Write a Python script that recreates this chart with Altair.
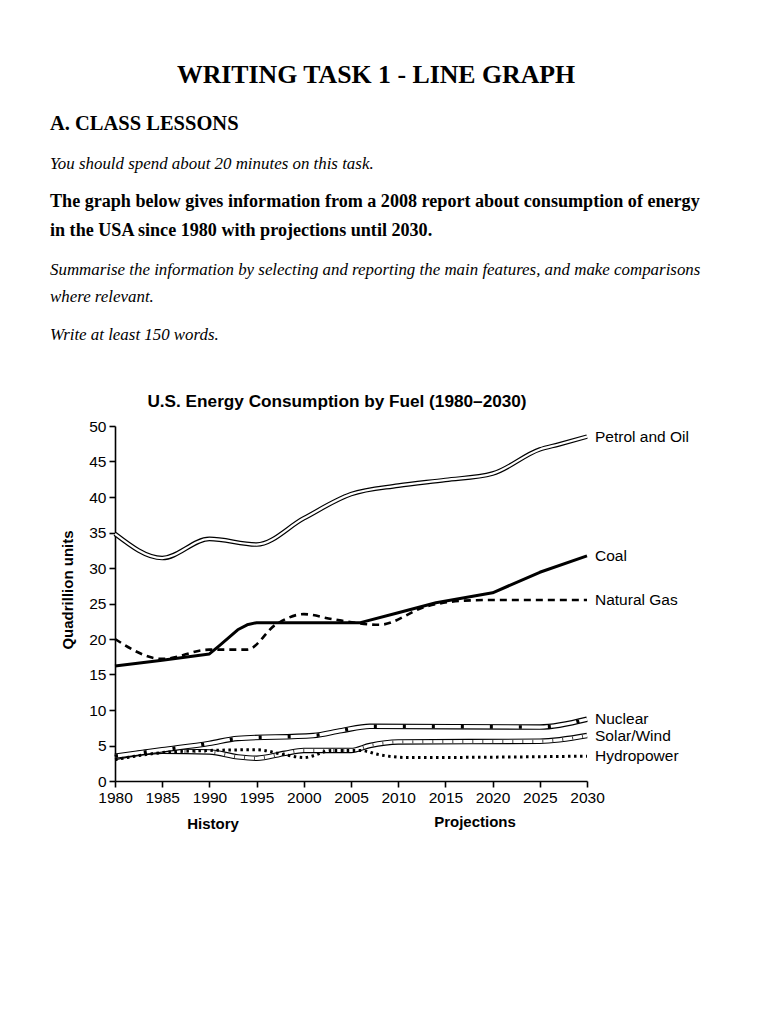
import altair as alt
import pandas as pd

# ---- data ----
petrol_years = [1980, 1985, 1990, 1995, 2000, 2005, 2010, 2015, 2020, 2025, 2027, 2030]
petrol_vals = [34.8, 31.4, 34.1, 33.3, 37.0, 40.4, 41.6, 42.4, 43.3, 46.7, 47.4, 48.5]

coal_years = [1980, 1985, 1990, 1991, 1993, 1994, 1995, 2000, 2006, 2010, 2014, 2020, 2025, 2030]
coal_vals = [16.2, 17.0, 17.9, 19.0, 21.3, 22.0, 22.3, 22.3, 22.3, 23.7, 25.1, 26.5, 29.4, 31.7]

gas_years = [1980, 1985, 1990, 1994, 1997, 2000, 2003, 2008, 2013, 2017, 2020, 2025, 2030]
gas_vals = [20.0, 17.2, 18.5, 18.5, 22.0, 23.5, 22.8, 22.0, 24.6, 25.4, 25.5, 25.5, 25.5]

nuclear_years = [1980, 1985, 1990, 1993, 2001, 2004, 2007, 2025, 2030]
nuclear_vals = [3.5, 4.4, 5.3, 6.0, 6.4, 7.1, 7.7, 7.6, 8.7]

solar_years = [1980, 1985, 1990, 1993, 1995, 1998, 2000, 2005, 2007, 2010, 2025, 2030]
solar_vals = [3.3, 4.2, 4.1, 3.4, 3.2, 3.9, 4.3, 4.3, 5.0, 5.5, 5.6, 6.4]

hydro_years = [1980, 1985, 1990, 1995, 1998, 2000, 2003, 2006, 2008, 2011, 2030]
hydro_vals = [3.0, 4.0, 4.3, 4.4, 3.7, 3.3, 4.3, 4.3, 3.7, 3.3, 3.5]

series_names = ["Petrol and Oil", "Coal", "Natural Gas", "Nuclear", "Solar/Wind", "Hydropower"]
x_ticks = list(range(1980, 2031, 5))
y_ticks = list(range(0, 51, 5))

chart_title = "U.S. Energy Consumption by Fuel (1980\u20132030)"
y_title = "Quadrillion units"
sub_history = "History"
sub_projections = "Projections"

doc_heading = "WRITING TASK 1 - LINE GRAPH"
doc_section = "A. CLASS LESSONS"
doc_time = "You should spend about 20 minutes on this task."
doc_prompt1 = "The graph below gives information from a 2008 report about consumption of energy"
doc_prompt2 = "in the USA since 1980 with projections until 2030."
doc_instr1 = "Summarise the information by selecting and reporting the main features, and make comparisons"
doc_instr2 = "where relevant."
doc_words = "Write at least 150 words."


def frame(years, vals, name):
    return pd.DataFrame({"year": years, "value": vals, "series": name})


dfs = {
    "Petrol and Oil": frame(petrol_years, petrol_vals, "Petrol and Oil"),
    "Coal": frame(coal_years, coal_vals, "Coal"),
    "Natural Gas": frame(gas_years, gas_vals, "Natural Gas"),
    "Nuclear": frame(nuclear_years, nuclear_vals, "Nuclear"),
    "Solar/Wind": frame(solar_years, solar_vals, "Solar/Wind"),
    "Hydropower": frame(hydro_years, hydro_vals, "Hydropower"),
}

SANS = "Liberation Sans, Arial, Helvetica, sans-serif"
SERIF = "Liberation Serif, Times New Roman, serif"

X = alt.X("year:Q", scale=alt.Scale(domain=[1980, 2030], nice=False, zero=False),
          axis=alt.Axis(values=x_ticks, format="d", title=None, grid=False,
                        labelFlush=False, labelOverlap=False))
Y = alt.Y("value:Q", scale=alt.Scale(domain=[0, 50], nice=False),
          axis=alt.Axis(values=y_ticks, title=None, grid=False,
                        labelFlush=False, labelOverlap=False))


def line(name, interp="monotone", **kw):
    return alt.Chart(dfs[name]).mark_line(interpolate=interp, **kw).encode(x=X, y=Y)


layers = []
# Petrol and Oil: double line
layers.append(line("Petrol and Oil", color="black", strokeWidth=4.6))
layers.append(line("Petrol and Oil", color="white", strokeWidth=2.2))
# Coal: thick solid
layers.append(line("Coal", interp="linear", color="black", strokeWidth=3, strokeJoin="round"))
# Natural gas: dashed
layers.append(line("Natural Gas", color="black", strokeWidth=2.6, strokeDash=[7, 5]))
# Solar/Wind: double line with hatch
layers.append(line("Solar/Wind", color="black", strokeWidth=5.5))
layers.append(line("Solar/Wind", color="white", strokeWidth=3.3))
layers.append(line("Solar/Wind", color="#444444", strokeWidth=3.3, strokeDash=[1, 9]))
# Nuclear: double line with small squares
layers.append(line("Nuclear", color="black", strokeWidth=5.5))
layers.append(line("Nuclear", color="white", strokeWidth=3.3))
layers.append(line("Nuclear", color="black", strokeWidth=3.6, strokeDash=[3, 26]))
# Hydropower: dotted
layers.append(line("Hydropower", color="black", strokeWidth=3, strokeDash=[2.5, 3.5]))

# end-of-line labels
for name in series_names:
    d = dfs[name]
    last = d.iloc[[-1]]
    layers.append(
        alt.Chart(last).mark_text(align="left", baseline="middle", dx=8, font=SANS,
                                  fontSize=15.5, color="black")
        .encode(x=X, y=Y, text="series:N")
    )

one = pd.DataFrame({"k": [0]})


def label(text, x, y, **kw):
    return alt.Chart(one).mark_text(color="black", **kw).encode(
        x=alt.value(x), y=alt.value(y), text=alt.value(text))


# chart title, axis titles, sub labels
layers.append(label(chart_title, 222, -24, font=SANS,
                    fontSize=17.2, fontWeight="bold", align="center", baseline="middle"))
layers.append(label(y_title, -47, 164, font=SANS, fontSize=15, fontWeight="bold",
                    align="center", baseline="middle", angle=270))
layers.append(label(sub_history, 98, 398, font=SANS, fontSize=15, fontWeight="bold",
                    align="center", baseline="middle"))
layers.append(label(sub_projections, 360, 396, font=SANS, fontSize=15, fontWeight="bold",
                    align="center", baseline="middle"))

# document text above the chart
layers.append(label(doc_heading, 261, -351, font=SERIF, fontSize=25.8, fontWeight="bold",
                    align="center", baseline="middle"))
layers.append(label(doc_section, -65, -302, font=SERIF, fontSize=20.5, fontWeight="bold",
                    align="left", baseline="middle"))
layers.append(label(doc_time, -65, -262, font=SERIF, fontSize=16.9, fontStyle="italic",
                    align="left", baseline="middle"))
layers.append(label(doc_prompt1, -65, -224, font=SERIF, fontSize=18.1, fontWeight="bold",
                    align="left", baseline="middle"))
layers.append(label(doc_prompt2, -65, -195, font=SERIF, fontSize=18.1, fontWeight="bold",
                    align="left", baseline="middle"))
layers.append(label(doc_instr1, -65, -156, font=SERIF, fontSize=16.9, fontStyle="italic",
                    align="left", baseline="middle"))
layers.append(label(doc_instr2, -65, -129, font=SERIF, fontSize=16.9, fontStyle="italic",
                    align="left", baseline="middle"))
layers.append(label(doc_words, -65, -91, font=SERIF, fontSize=16.9, fontStyle="italic",
                    align="left", baseline="middle"))

chart = alt.layer(*layers).properties(
    width=472,
    height=355,
    padding={"left": 107, "top": 418, "right": 173, "bottom": 200},
    autosize=alt.AutoSizeParams(type="none"),
    background="white",
).configure_view(stroke=None).configure_axis(
    domainColor="black", domainWidth=1.6, tickColor="black", tickWidth=1.6, tickSize=6,
    labelFont=SANS, labelFontSize=15.5, labelColor="black", labelPadding=3,
)

chart.save("out.html", embed_options={"renderer": "svg", "actions": False})
